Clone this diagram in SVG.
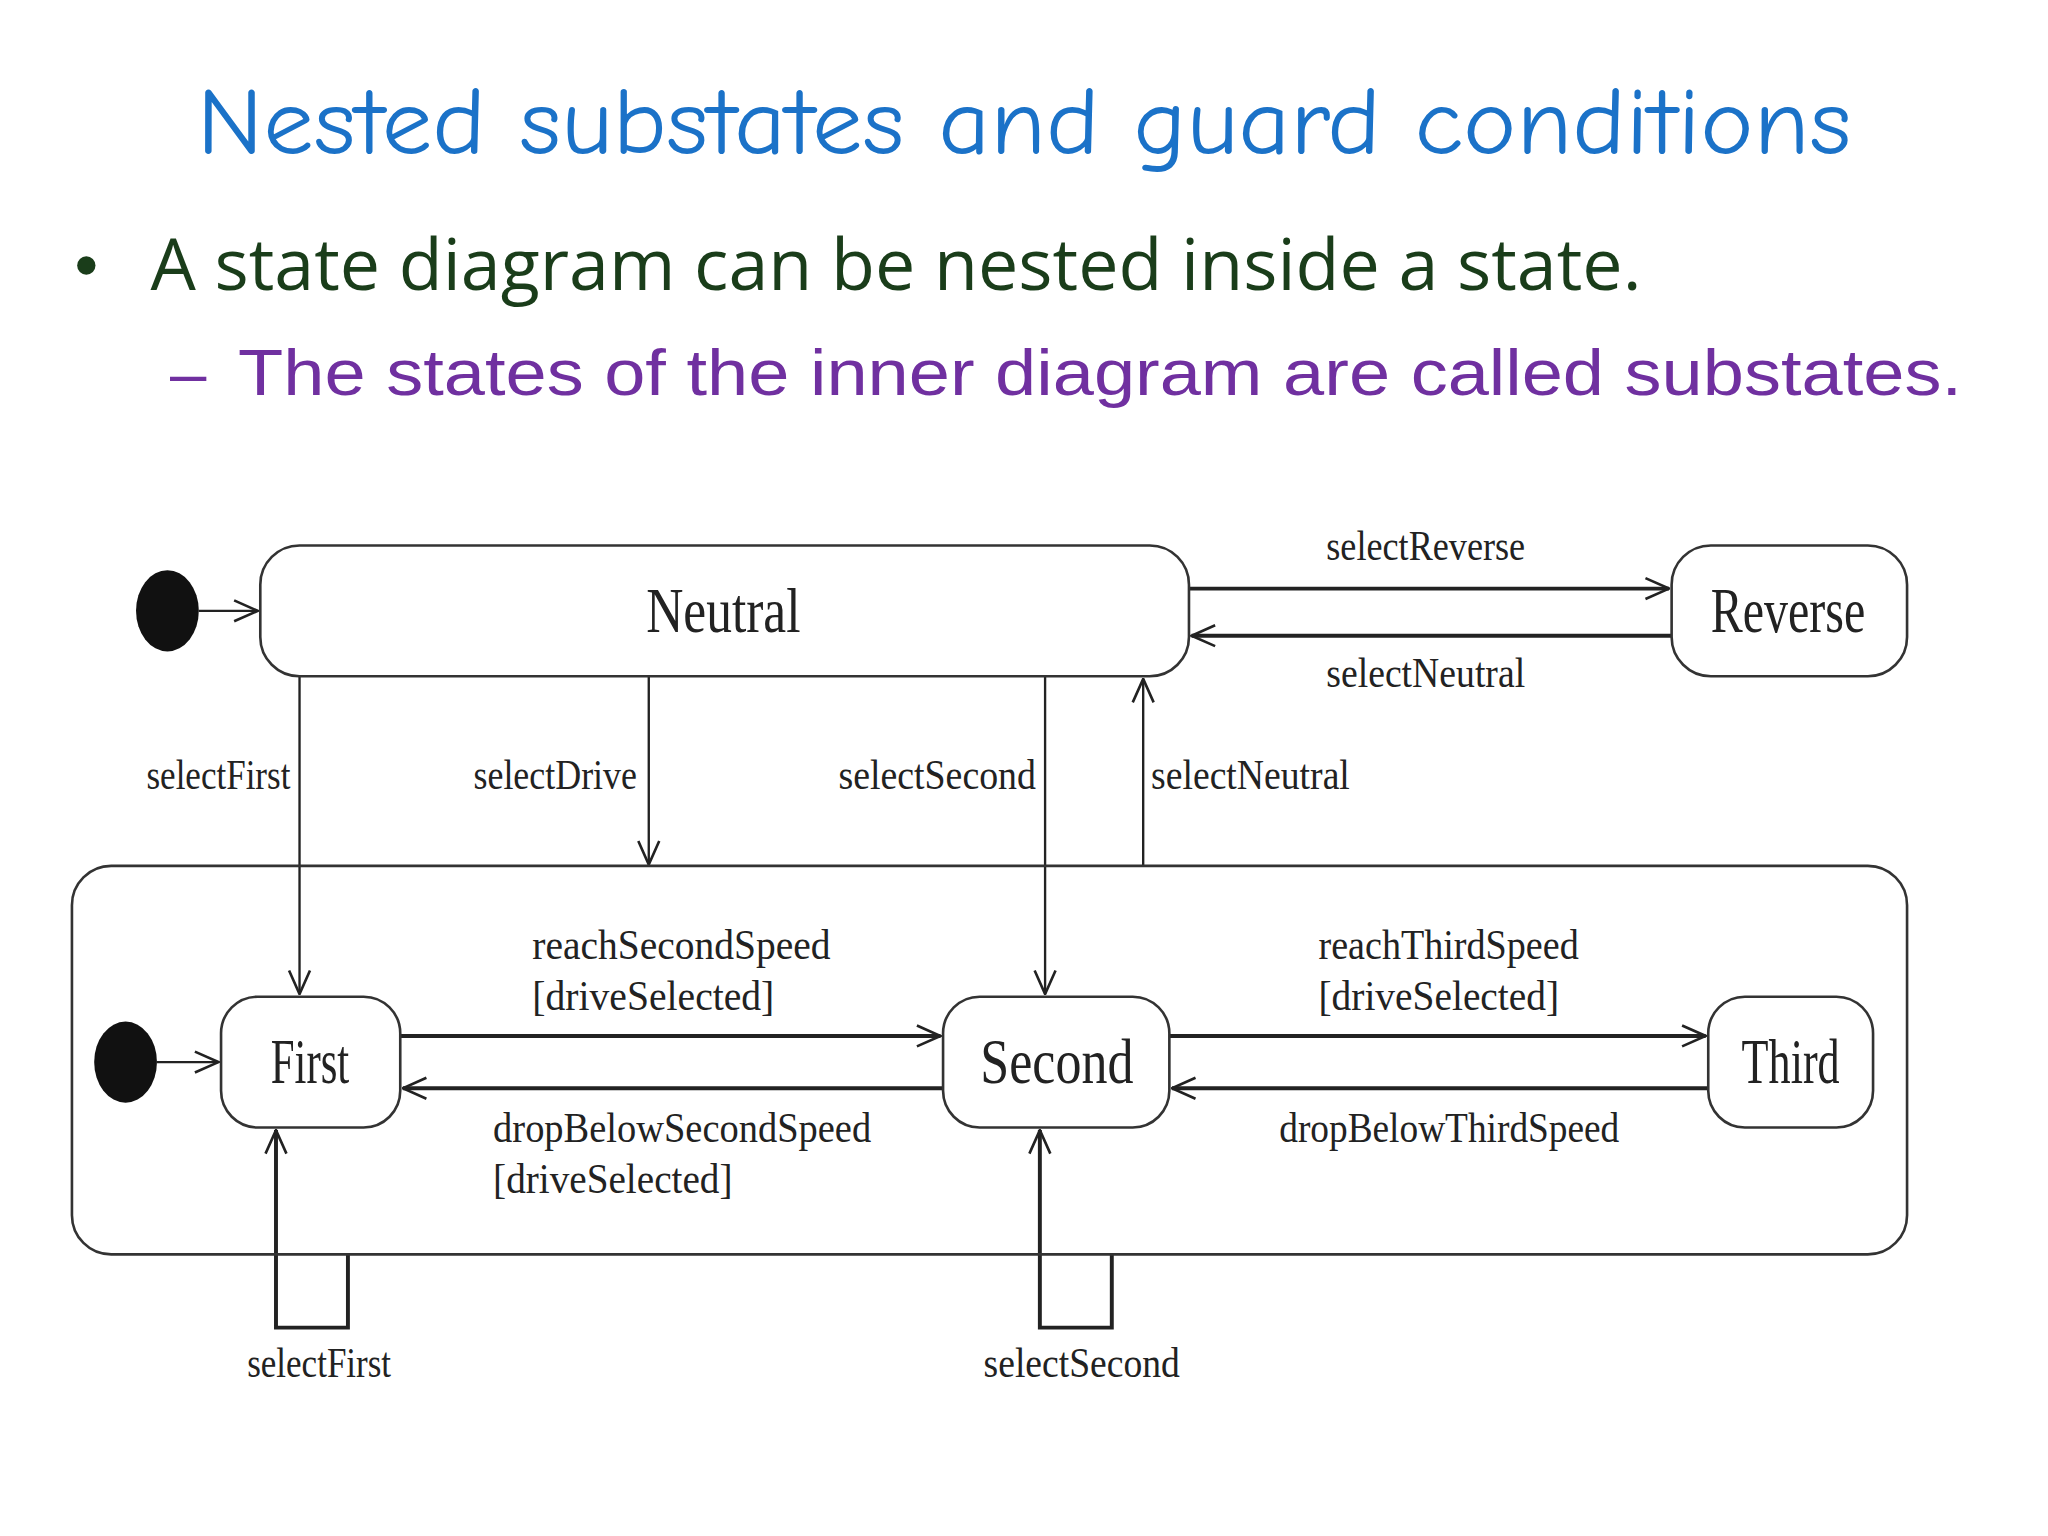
<svg xmlns="http://www.w3.org/2000/svg" width="2048" height="1536" viewBox="0 0 2048 1536">
<defs>
<marker id="a" viewBox="0 0 20 20" refX="19" refY="10" markerWidth="20" markerHeight="20" markerUnits="userSpaceOnUse" orient="auto">
<path d="M1,2 L19,10 L1,18" fill="none" stroke="#222" stroke-width="2"/>
</marker>
<style>
.st{fill:#fff;stroke:#333;stroke-width:2}
.ln{fill:none;stroke:#222;stroke-width:1.8;marker-end:url(#a)}
.tk{fill:none;stroke:#222;stroke-width:3;marker-end:url(#a)}
.lb{font-family:"Liberation Serif",serif;font-size:33px;fill:#222}
.nm{font-family:"Liberation Serif",serif;font-size:48px;fill:#222;text-anchor:middle}
</style>
</defs>
<rect width="2048" height="1536" fill="#fff"/>
<g transform="scale(1.308)">
<g id="title">
<text x="783" y="118" text-anchor="middle" font-family="'Comic Neue','Liberation Sans',sans-serif" font-size="72" fill="#1b72c8" textLength="1265" lengthAdjust="spacingAndGlyphs">Nested substates and guard conditions</text>
<circle cx="66" cy="203" r="7" fill="#1a3d1a"/>
<text x="115" y="222" font-family="'Open Sans',sans-serif" font-size="54" fill="#1a3d1a" textLength="1140" lengthAdjust="spacingAndGlyphs">A state diagram can be nested inside a state.</text>
<text x="130" y="302" font-family="'Liberation Sans',sans-serif" font-size="50" fill="#7030a0">–</text>
<text x="182" y="302" font-family="'Liberation Sans',sans-serif" font-size="50" fill="#7030a0" textLength="1318" lengthAdjust="spacingAndGlyphs">The states of the inner diagram are called substates.</text>
</g>
<g id="connectors">
<line class="ln" x1="152" y1="467" x2="197" y2="467"/>
<line class="ln" x1="120" y1="812" x2="167" y2="812"/>
<line class="tk" x1="909" y1="450" x2="1276" y2="450"/>
<line class="tk" x1="1278" y1="486" x2="911" y2="486"/>
<line class="ln" x1="229" y1="517" x2="229" y2="760"/>
<line class="ln" x1="496" y1="517" x2="496" y2="661"/>
<line class="ln" x1="799" y1="517" x2="799" y2="760"/>
<line class="ln" x1="874" y1="662" x2="874" y2="519"/>
<line class="tk" x1="306" y1="792" x2="719" y2="792"/>
<line class="tk" x1="721" y1="832" x2="308" y2="832"/>
<line class="tk" x1="894" y1="792" x2="1304" y2="792"/>
<line class="tk" x1="1306" y1="832" x2="896" y2="832"/>
<path class="tk" d="M266,959 V1015 H211 V864"/>
<path class="tk" d="M850,959 V1015 H795 V864"/>
</g>
<g id="labels">
<text class="lb" x="1090" y="428" text-anchor="middle" textLength="152" lengthAdjust="spacingAndGlyphs">selectReverse</text>
<text class="lb" x="1090" y="525" text-anchor="middle" textLength="152" lengthAdjust="spacingAndGlyphs">selectNeutral</text>
<text class="lb" x="112" y="603" textLength="110" lengthAdjust="spacingAndGlyphs">selectFirst</text>
<text class="lb" x="362" y="603" textLength="125" lengthAdjust="spacingAndGlyphs">selectDrive</text>
<text class="lb" x="641" y="603" textLength="151" lengthAdjust="spacingAndGlyphs">selectSecond</text>
<text class="lb" x="880" y="603" textLength="152" lengthAdjust="spacingAndGlyphs">selectNeutral</text>
<text class="lb" x="407" y="733" textLength="228" lengthAdjust="spacingAndGlyphs">reachSecondSpeed</text>
<text class="lb" x="407" y="772" textLength="185" lengthAdjust="spacingAndGlyphs">[driveSelected]</text>
<text class="lb" x="377" y="873" textLength="289" lengthAdjust="spacingAndGlyphs">dropBelowSecondSpeed</text>
<text class="lb" x="377" y="912" textLength="183" lengthAdjust="spacingAndGlyphs">[driveSelected]</text>
<text class="lb" x="1008" y="733" textLength="199" lengthAdjust="spacingAndGlyphs">reachThirdSpeed</text>
<text class="lb" x="1008" y="772" textLength="184" lengthAdjust="spacingAndGlyphs">[driveSelected]</text>
<text class="lb" x="978" y="873" textLength="260" lengthAdjust="spacingAndGlyphs">dropBelowThirdSpeed</text>
<text class="lb" x="189" y="1053" textLength="110" lengthAdjust="spacingAndGlyphs">selectFirst</text>
<text class="lb" x="752" y="1053" textLength="150" lengthAdjust="spacingAndGlyphs">selectSecond</text>
</g>
<g id="init1"><ellipse cx="128" cy="467" rx="24" ry="31" fill="#111"/></g>
<g id="neutral"><rect class="st" x="199" y="417" width="710" height="100" rx="30"/><text class="nm" x="553" y="483" textLength="118" lengthAdjust="spacingAndGlyphs">Neutral</text></g>
<g id="reverse"><rect class="st" x="1278" y="417" width="180" height="100" rx="30"/><text class="nm" x="1367" y="483" textLength="118" lengthAdjust="spacingAndGlyphs">Reverse</text></g>
<g id="drive"><rect x="55" y="662" width="1403" height="297" rx="30" fill="none" stroke="#333" stroke-width="2"/></g>
<g id="init2"><ellipse cx="96" cy="812" rx="24" ry="31" fill="#111"/></g>
<g id="first"><rect class="st" x="169" y="762" width="137" height="100" rx="28"/><text class="nm" x="237" y="828" textLength="60" lengthAdjust="spacingAndGlyphs">First</text></g>
<g id="second"><rect class="st" x="721" y="762" width="173" height="100" rx="28"/><text class="nm" x="808" y="828" textLength="117" lengthAdjust="spacingAndGlyphs">Second</text></g>
<g id="third"><rect class="st" x="1306" y="762" width="126" height="100" rx="28"/><text class="nm" x="1369" y="828" textLength="75" lengthAdjust="spacingAndGlyphs">Third</text></g>
</g>
</svg>
